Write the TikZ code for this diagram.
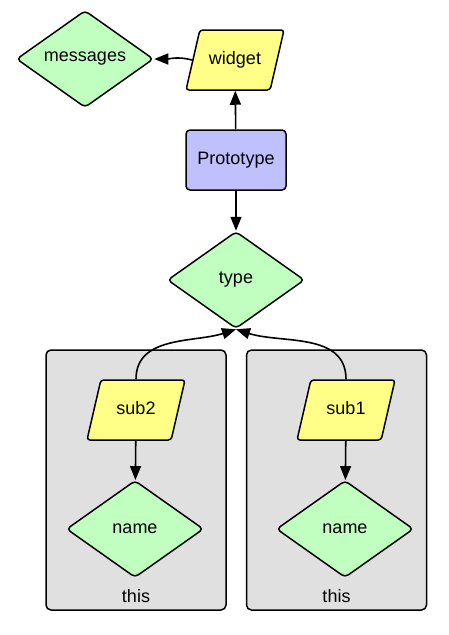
\documentclass[tikz,border=0pt]{standalone}
\usepackage{fontspec}
\setmainfont{Liberation Sans}
\usetikzlibrary{shapes.geometric,arrows.meta}
\definecolor{dgreen}{HTML}{C0FFC0}
\definecolor{dyellow}{HTML}{FFFF88}
\definecolor{dlav}{HTML}{C0C0FF}
\definecolor{dgray}{HTML}{E0E0E0}

\begin{document}
\begin{tikzpicture}[x=1pt,y=-1pt,
  every node/.style={font=\fontsize{18}{21}\selectfont, line width=1.5pt},
  dia/.style={diamond, draw, fill=dgreen, minimum width=137pt, minimum height=97pt, inner sep=0pt, rounded corners=4pt},
  para/.style={trapezium, trapezium left angle=77, trapezium right angle=103, trapezium stretches body, draw, fill=dyellow, text height=12pt, text depth=4pt, inner ysep=22pt, minimum width=98pt, rounded corners=3pt},
  proto/.style={rectangle, draw, fill=dlav, minimum width=100pt, minimum height=60pt, rounded corners=4pt},
  grp/.style={rectangle, draw, fill=dgray, minimum width=180pt, minimum height=260pt, rounded corners=5pt},
  link/.style={-{Triangle[length=14pt,width=11pt]}, line width=1.6pt}]
\useasboundingbox (0,0) rectangle (448,635);
% containers
\node[grp] (grpL) at (136,480) {};
\node[grp] (grpR) at (336.5,480) {};
\node (thisL) at (136,596) {this};
\node (thisR) at (336.5,596) {this};
% nodes
\node[dia] (messages) at (85,59) {messages};
\node[para] (widget) at (235,60) {widget};
\node[proto] (proto) at (236,160) {Prototype};
\node[dia] (type) at (236,280) {type};
\node[para] (sub2) at (136,410) {sub2};
\node[para] (sub1) at (346,410) {sub1};
\node[dia] (nameL) at (135,529) {name};
\node[dia] (nameR) at (345,529) {name};
% links
\draw[link] (widget.west) to[out=165,in=0] (messages.east);
\draw[link] (proto) -- (widget);
\draw[link] (proto) -- (type);
\draw[link] (sub2.north) to[out=90,in=-162] (type.south);
\draw[link] (sub1.north) to[out=90,in=-18] (type.south);
\draw[link] (sub2) -- (nameL);
\draw[link] (sub1) -- (nameR);
\end{tikzpicture}
\end{document}
